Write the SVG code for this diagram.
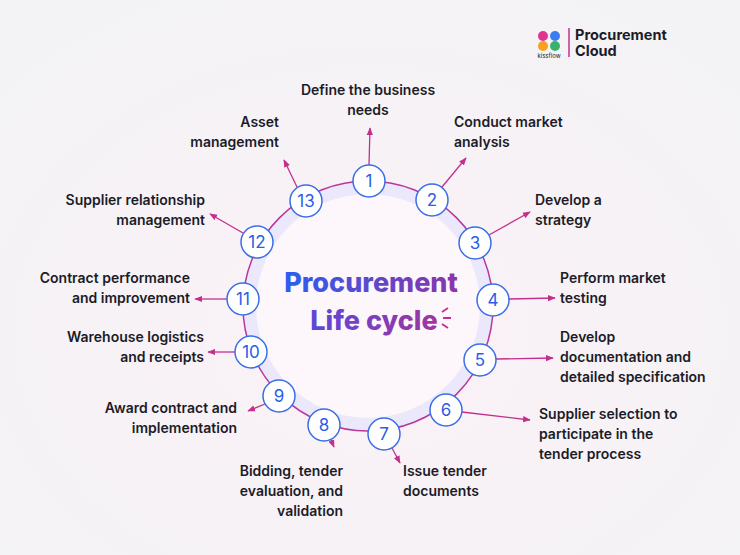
<svg xmlns="http://www.w3.org/2000/svg" width="740" height="555" viewBox="0 0 740 555">
<defs>
<radialGradient id="bg" cx="0.5" cy="0.6" r="0.7"><stop offset="0" stop-color="#fbf1f7"/><stop offset="1" stop-color="#f3f3f5"/></radialGradient>
<linearGradient id="tg" x1="0" x2="1"><stop offset="0" stop-color="#2b5ef0"/><stop offset="1" stop-color="#8c35a8"/></linearGradient>
<linearGradient id="tg2" x1="0" x2="1"><stop offset="0" stop-color="#5a48d8"/><stop offset="1" stop-color="#a0359e"/></linearGradient>
<marker id="ah" viewBox="0 0 10 10" refX="9" refY="5" markerWidth="6" markerHeight="6" orient="auto"><path d="M0,1 L10,5 L0,9 z" fill="#c2308e"/></marker>
<style>
.n circle{fill:#fff;stroke:#3a6de8;stroke-width:1.5}
.n text{font-family:Inter,"Liberation Sans",sans-serif;font-size:17px;fill:#2a5de8;text-anchor:middle;dominant-baseline:central}
.c line{stroke:#c2308e;stroke-width:1.3;marker-end:url(#ah)}
.l{font-family:Inter,"Liberation Sans",sans-serif;font-size:14px;font-weight:600;fill:#1c1c28}
</style>
</defs>
<rect width="740" height="555" fill="url(#bg)"/>
<circle cx="368" cy="306" r="125" fill="#ece8fb" stroke="#b8389a" stroke-width="1.5"/>
<circle cx="368" cy="306" r="112" fill="#fdf7fc"/>
<g id="logo">
<circle cx="543" cy="36" r="5" fill="#e0338f"/><circle cx="555" cy="36" r="5" fill="#3b7cf0"/><circle cx="543" cy="46" r="5" fill="#f6a21e"/><circle cx="555" cy="46" r="5" fill="#3ab26a"/>
<text x="549" y="58" font-family="Inter,'Liberation Sans',sans-serif" font-size="6" text-anchor="middle" fill="#222">kissflow</text>
<line x1="569" y1="28" x2="569" y2="57" stroke="#c2308e" stroke-width="1.5"/>
<text x="575" y="40" font-family="Inter,'Liberation Sans',sans-serif" font-size="14.5" font-weight="700" fill="#1c1c28">Procurement</text>
<text x="575" y="56" font-family="Inter,'Liberation Sans',sans-serif" font-size="14.5" font-weight="700" fill="#1c1c28">Cloud</text>
</g>
<g id="title" font-family="Inter,'Liberation Sans',sans-serif" font-weight="800" font-size="27" text-anchor="middle">
<text x="371" y="292" fill="url(#tg)">Procurement</text>
<text x="374" y="330" fill="url(#tg2)">Life cycle</text>
<path d="M442,312 l6,-4 M443,318 h8 M442,324 l6,4" stroke="#c2308e" stroke-width="1.8" fill="none"/>
</g>
<g class="c">
<line x1="369" y1="165" x2="370" y2="128"/>
<line x1="442" y1="187" x2="466" y2="158"/>
<line x1="489" y1="235" x2="530" y2="212"/>
<line x1="509" y1="299" x2="555" y2="298"/>
<line x1="496" y1="359" x2="553" y2="358"/>
<line x1="462" y1="412" x2="530" y2="420"/>
<line x1="392" y1="448" x2="400" y2="463"/>
<line x1="331" y1="440" x2="334" y2="447"/>
<line x1="265" y1="404" x2="248" y2="411"/>
<line x1="235" y1="352" x2="208" y2="352"/>
<line x1="227" y1="299" x2="195" y2="299"/>
<line x1="243" y1="233" x2="210" y2="214"/>
<line x1="297" y1="187" x2="284" y2="160"/>
</g>
<g class="n" id="n1"><circle cx="369" cy="181" r="16"/><text x="369" y="181">1</text></g>
<g class="n" id="n2"><circle cx="432" cy="200" r="16"/><text x="432" y="200">2</text></g>
<g class="n" id="n3"><circle cx="475" cy="243" r="16"/><text x="475" y="243">3</text></g>
<g class="n" id="n4"><circle cx="493" cy="300" r="16"/><text x="493" y="300">4</text></g>
<g class="n" id="n5"><circle cx="480" cy="360" r="16"/><text x="480" y="360">5</text></g>
<g class="n" id="n6"><circle cx="446" cy="410" r="16"/><text x="446" y="410">6</text></g>
<g class="n" id="n7"><circle cx="384" cy="434" r="16"/><text x="384" y="434">7</text></g>
<g class="n" id="n8"><circle cx="324" cy="425" r="16"/><text x="324" y="425">8</text></g>
<g class="n" id="n9"><circle cx="279" cy="396" r="16"/><text x="279" y="396">9</text></g>
<g class="n" id="n10"><circle cx="251" cy="352" r="16"/><text x="251" y="352">10</text></g>
<g class="n" id="n11"><circle cx="243" cy="299" r="16"/><text x="243" y="299">11</text></g>
<g class="n" id="n12"><circle cx="257" cy="242" r="16"/><text x="257" y="242">12</text></g>
<g class="n" id="n13"><circle cx="306" cy="201" r="16"/><text x="306" y="201">13</text></g>
<g id="labels">
<text class="l" x="368" y="95" text-anchor="middle">Define the business</text><text class="l" x="368" y="115" text-anchor="middle">needs</text>
<text class="l" x="454" y="127">Conduct market</text><text class="l" x="454" y="147">analysis</text>
<text class="l" x="535" y="205">Develop a</text><text class="l" x="535" y="225">strategy</text>
<text class="l" x="560" y="283">Perform market</text><text class="l" x="560" y="303">testing</text>
<text class="l" x="560" y="342">Develop</text><text class="l" x="560" y="362">documentation and</text><text class="l" x="560" y="382">detailed specification</text>
<text class="l" x="539" y="419">Supplier selection to</text><text class="l" x="539" y="439">participate in the</text><text class="l" x="539" y="459">tender process</text>
<text class="l" x="403" y="476">Issue tender</text><text class="l" x="403" y="496">documents</text>
<text class="l" x="343" y="476" text-anchor="end">Bidding, tender</text><text class="l" x="343" y="496" text-anchor="end">evaluation, and</text><text class="l" x="343" y="516" text-anchor="end">validation</text>
<text class="l" x="237" y="413" text-anchor="end">Award contract and</text><text class="l" x="237" y="433" text-anchor="end">implementation</text>
<text class="l" x="204" y="342" text-anchor="end">Warehouse logistics</text><text class="l" x="204" y="362" text-anchor="end">and receipts</text>
<text class="l" x="190" y="283" text-anchor="end">Contract performance</text><text class="l" x="190" y="303" text-anchor="end">and improvement</text>
<text class="l" x="205" y="205" text-anchor="end">Supplier relationship</text><text class="l" x="205" y="225" text-anchor="end">management</text>
<text class="l" x="279" y="127" text-anchor="end">Asset</text><text class="l" x="279" y="147" text-anchor="end">management</text>
</g>
</svg>
